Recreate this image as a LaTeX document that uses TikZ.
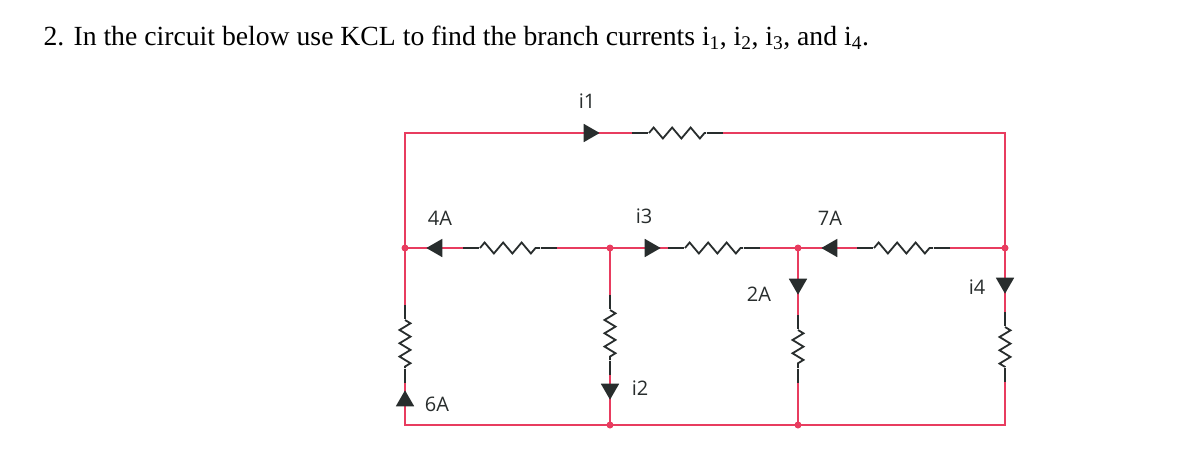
\documentclass[tikz,border=0pt]{standalone}
\usepackage{fontspec}
\setmainfont{Liberation Serif}
\newfontfamily\lab{Open Sans}
\usetikzlibrary{shapes.geometric,decorations.pathmorphing}
\definecolor{wire}{RGB}{232,60,95}
\definecolor{dark}{RGB}{40,45,45}
\begin{document}
\begin{tikzpicture}[x=1pt,y=-1pt,
  w/.style={wire,line width=2.2pt},
  res/.style={dark,line width=1.8pt,decoration={zigzag,segment length=18.5pt,amplitude=5.5pt},decorate},
  vres/.style={res,decoration={zigzag,segment length=13.3pt,amplitude=5.5pt}},
  lead/.style={dark,line width=2.2pt},
  tri/.style={isosceles triangle,fill=dark,inner sep=0pt,minimum width=14pt,minimum height=16pt,isosceles triangle apex angle=60,anchor=center},
  lbl/.style={font=\lab\fontsize{20}{20}\selectfont,text=dark},
  dot/.style={circle,fill=wire,inner sep=0pt,minimum size=7pt}]
\useasboundingbox (0,0) rectangle (1194,464);
\node[anchor=base west,font=\fontsize{27.7}{28}\selectfont] (title) at (40,45) {2. In the circuit below use KCL to find the branch currents i\textsubscript{1}, i\textsubscript{2}, i\textsubscript{3}, and i\textsubscript{4}.};
% junctions
\coordinate (TL) at (405,133); \coordinate (TR) at (1005,133);
\coordinate (ML) at (405,248); \coordinate (MM) at (610,248);
\coordinate (MR) at (798,248); \coordinate (RR) at (1005,248);
\coordinate (BL) at (405,425); \coordinate (BM) at (610,425);
\coordinate (BR) at (798,425); \coordinate (BRR) at (1005,425);
% wires
\draw[w] (ML) -- (TL) -- (TR) -- (RR);
\draw[w] (ML) -- (RR);
\draw[w] (ML) -- (BL) -- (BRR) -- (RR);
\draw[w] (MM) -- (BM);
\draw[w] (MR) -- (BR);
% horizontal resistors
\foreach \a/\b/\y in {632/723/133, 463/557/248, 668/760/248, 857/950/248}{
  \draw[lead] (\a,\y) -- (\b,\y);
  \fill[white] (\a+16,\y-8) rectangle (\b-16,\y+8);
  \draw[res] (\a+17,\y) -- (\b-17,\y);
}
% vertical resistors
\foreach \x/\a/\b in {405/305/383, 610/295/375, 798/315/383, 1005/312/382}{
  \draw[lead] (\x,\a) -- (\x,\b);
  \fill[white] (\x-8,\a+14) rectangle (\x+8,\b-14);
  \draw[vres] (\x,\a+15) -- (\x,\b-15);
}
% arrows
\node[tri] (a1) at (589,133) {};
\node[tri,rotate=180] (a4) at (437,248) {};
\node[tri] (a3) at (650,248) {};
\node[tri,rotate=180] (a7) at (832,248) {};
\node[tri,rotate=-90] (a2A) at (798,284) {};
\node[tri,rotate=-90] (ai4) at (1005,283) {};
\node[tri,rotate=-90] (ai2) at (610,389) {};
\node[tri,rotate=90] (a6) at (405,401) {};
% dots
\foreach \p in {ML,MM,MR,RR,BM,BR} \node[dot] at (\p) {};
% labels
\node[lbl] (l1) at (587,101) {i1};
\node[lbl] (l4A) at (440,218) {4A};
\node[lbl] (l3) at (644,216) {i3};
\node[lbl] (l7A) at (830,218) {7A};
\node[lbl] (l2A) at (759,294) {2A};
\node[lbl] (li4) at (977,287) {i4};
\node[lbl] (li2) at (640,388) {i2};
\node[lbl] (l6A) at (437,404) {6A};
\end{tikzpicture}
\end{document}
